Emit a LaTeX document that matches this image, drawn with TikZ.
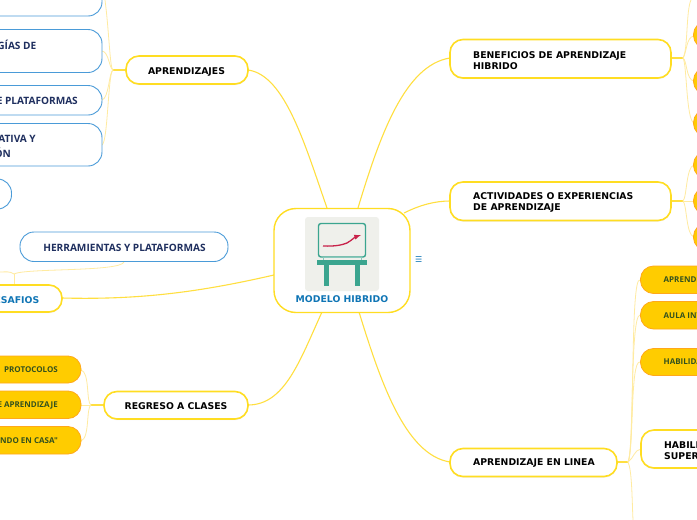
\documentclass[tikz,border=0pt]{standalone}
\usepackage{fontspec}
\setmainfont{DejaVu Sans}
\newfontfamily\bluefont{Open Sans}
\usetikzlibrary{shadows}
\definecolor{ylw}{HTML}{FFDD22}
\definecolor{lnk}{HTML}{FFEBA0}
\definecolor{mainlnk}{HTML}{FFDF40}
\definecolor{gold}{HTML}{FFCC00}
\definecolor{goldb}{HTML}{FFA81A}
\definecolor{goldt}{HTML}{33511E}
\definecolor{bluel}{HTML}{4A9BD8}
\definecolor{navy}{HTML}{1F2F5F}
\definecolor{teal1}{HTML}{3BA58F}
\definecolor{cblue}{HTML}{0F75B5}
\definecolor{panel}{HTML}{EFF0EB}
\definecolor{crim}{HTML}{C8234A}
\tikzset{
 x=1pt,y=-1pt,
 ybox/.style={draw=ylw,line width=1.6pt,fill=white,rounded corners=13pt,drop shadow={opacity=0.13,shadow xshift=0pt,shadow yshift=-1.2pt}},
 bbox/.style={draw=bluel,line width=0.9pt,fill=white,rounded corners=14pt},
 gbox/.style={draw=goldb,line width=0.8pt,fill=gold,rounded corners=13pt},
 ytxt/.style={font=\bfseries\fontsize{9.3}{11}\selectfont,text=black,inner sep=0pt,align=left},
 btxt/.style={font=\bluefont\bfseries\fontsize{10.1}{14}\selectfont,text=navy,inner sep=0pt,align=left},
 gtxt/.style={font=\bluefont\bfseries\fontsize{8}{10}\selectfont,text=goldt,inner sep=0pt},
 mainlink/.style={draw=mainlnk,line width=1.1pt},
 sublink/.style={draw=lnk,line width=0.8pt},
}
\begin{document}
\begin{tikzpicture}
\useasboundingbox (0,0) rectangle (697,520);
\clip (0,0) rectangle (697,520);
\fill[white] (0,0) rectangle (697,520);

% coordinates
\coordinate (c1) at (327,208);
\coordinate (c2) at (358,208);
\coordinate (c3) at (404,213);
\coordinate (c4) at (274,275);
\coordinate (c5) at (322,312);
\coordinate (c6) at (359,312);
\coordinate (apR) at (248,70);
\coordinate (apL) at (126,70);
\coordinate (hubA) at (113,70);
\coordinate (benL) at (450,58);
\coordinate (benR) at (671,58);
\coordinate (hubB) at (683,58);
\coordinate (actL) at (450,201);
\coordinate (actR) at (671,201);
\coordinate (hubC) at (683,201);
\coordinate (desR) at (62,298);
\coordinate (desT) at (14,285);
\coordinate (hubD) at (14,274);
\coordinate (regL) at (104,405);
\coordinate (regR) at (248,405);
\coordinate (hubE) at (91,405);
\coordinate (linL) at (450,462);
\coordinate (linR) at (617,462);
\coordinate (hubF) at (628,462);
\coordinate (offT) at (105,0);
\coordinate (offTR) at (691,0);
\coordinate (offB) at (633,520);
\coordinate (offDes) at (0,272);

% main links
\draw[mainlink] (apR) .. controls (285,75) and (305,145) .. (c1);
\draw[mainlink] (benL) .. controls (405,65) and (380,135) .. (c2);
\draw[mainlink] (actL) .. controls (435,201) and (420,205) .. (c3);
\draw[mainlink] (desR) .. controls (140,300) and (200,292) .. (c4);
\draw[mainlink] (regR) .. controls (285,405) and (300,360) .. (c5);
\draw[mainlink] (linL) .. controls (405,455) and (380,380) .. (c6);

% hub stems
\draw[mainlink] (apL) -- (hubA);
\draw[mainlink] (benR) -- (hubB);
\draw[mainlink] (actR) -- (hubC);
\draw[mainlink] (regL) -- (hubE);
\draw[mainlink] (linR) -- (hubF);
\draw[sublink] (desT) -- (hubD);

% left sub links
\draw[sublink] (hubA) .. controls (110,70) and (109,30) .. (offT);
\draw[sublink] (hubA) .. controls (109,68) and (109,52) .. (102,51);
\draw[sublink] (hubA) .. controls (109,72) and (109,98) .. (102,100);
\draw[sublink] (hubA) .. controls (108,72) and (108,142) .. (102,145);
\draw[sublink] (hubD) .. controls (25,268) and (120,272) .. (124,262);
\draw[sublink] (hubD) .. controls (10,271) and (5,272) .. (offDes);
\draw[sublink] (hubE) .. controls (86,403) and (90,372) .. (81,370);
\draw[sublink] (hubE) -- (81,405);
\draw[sublink] (hubE) .. controls (86,407) and (90,438) .. (81,441);

% right sub links
\draw[sublink] (hubB) .. controls (688,50) and (686,10) .. (offTR);
\draw[sublink] (hubB) .. controls (687,52) and (686,37) .. (694,36);
\draw[sublink] (hubB) .. controls (687,60) and (686,80) .. (694,81);
\draw[sublink] (hubB) .. controls (687,64) and (686,120) .. (694,123);
\draw[sublink] (hubC) .. controls (687,197) and (686,167) .. (694,165);
\draw[sublink] (hubC) -- (694,201);
\draw[sublink] (hubC) .. controls (687,205) and (686,235) .. (694,237);
\draw[sublink] (hubF) .. controls (635,450) and (630,275) .. (640,280);
\draw[sublink] (hubF) .. controls (634,450) and (630,315) .. (640,315);
\draw[sublink] (hubF) .. controls (634,450) and (630,360) .. (640,362);
\draw[sublink] (hubF) .. controls (634,458) and (634,450) .. (641,449);
\draw[sublink] (hubF) .. controls (632,470) and (632,500) .. (offB);

% central node
\draw[draw=ylw,line width=1.4pt,fill=white,rounded corners=22pt] (274,208.5) rectangle (410,312.5);
\fill[panel,rounded corners=3pt] (305,217) rectangle (379,291);
\draw[teal1,line width=1.4pt,rounded corners=2.5pt] (318.5,223.5) rectangle (365.5,257);
\draw[teal1!60,line width=0.8pt] (323,257.5) rectangle (361,260);
\fill[teal1] (317,260) rectangle (367,264.5);
\fill[teal1] (324,264.5) rectangle (329,285.5);
\fill[teal1] (355,264.5) rectangle (360,285.5);
\draw[crim,line width=1.3pt,-latex] (323,246) .. controls (335,246.5) and (342,245) .. (347,243) .. controls (352,240) and (355,237) .. (361,235);
\node[font=\bfseries\fontsize{9.3}{10}\selectfont,text=cblue,inner sep=0pt] (root) at (342,299) {MODELO HIBRIDO};
\node[font=\fontsize{8}{10}\selectfont,text=cblue,inner sep=0pt] (menu) at (418.7,260) {☰};

% yellow boxes
\draw[ybox] (126,56) rectangle (248,84);
\node[ytxt] (t1) at (186.5,71.5) {APRENDIZAJES};
\draw[ybox] (450,39.5) rectangle (671,78);
\node[ytxt,anchor=west] (t2) at (473,60.3) {BENEFICIOS DE APRENDIZAJE\\HIBRIDO};
\draw[ybox] (450,182) rectangle (671,220.5);
\node[ytxt,anchor=west] (t3) at (473,202.3) {ACTIVIDADES O EXPERIENCIAS\\DE APRENDIZAJE};
\draw[ybox] (-30,285) rectangle (62,312);
\node[ytxt,anchor=east,text=cblue] (t4) at (39.5,300) {DESAFIOS};
\draw[ybox] (104,391.5) rectangle (248,419);
\node[ytxt] (t5) at (176,406.5) {REGRESO A CLASES};
\draw[ybox] (450,448.5) rectangle (617,476.5);
\node[ytxt] (t6) at (534,463.5) {APRENDIZAJE EN LINEA};
\draw[ybox] (641,430) rectangle (740,468);
\node[ytxt,anchor=west] (t7) at (664,450.3) {HABILIDADES\\SUPERIORES};

% blue boxes
\draw[bbox] (-40,-20) rectangle (102,16);
\draw[bbox] (-40,29.5) rectangle (102,72.5);
\node[btxt,anchor=east] (b2) at (36.5,44.5) {GÍAS DE};
\draw[bbox] (-40,85.5) rectangle (102,115);
\node[btxt,anchor=east] (b3) at (78,100.5) {DE PLATAFORMAS};
\draw[bbox] (-40,123.5) rectangle (102,166);
\node[btxt,anchor=east] (b4) at (36,138.5) {ATIVA Y};
\node[btxt,anchor=east] (b4b) at (11,153) {ÓN};
\draw[bbox] (-40,179) rectangle (11.5,209);
\draw[bbox] (20,232) rectangle (228,261.5);
\node[btxt] (b6) at (124.5,247.5) {HERRAMIENTAS Y PLATAFORMAS};

% gold boxes, left
\draw[gbox] (-40,356) rectangle (81,383);
\node[gtxt] (g1) at (31,370) {PROTOCOLOS};
\draw[gbox] (-40,391) rectangle (81,418.5);
\node[gtxt,anchor=east] (g2) at (58,405) {DE APRENDIZAJE};
\draw[gbox] (-40,426.5) rectangle (81,454);
\node[gtxt,anchor=east] (g3) at (58,441) {NDO EN CASA"};

% gold boxes, right clipped
\draw[gbox] (693.5,21.5) rectangle (760,48.5);
\draw[gbox] (693.5,67.5) rectangle (760,94.5);
\draw[gbox] (693.5,109.5) rectangle (760,136.5);
\draw[gbox] (693.5,151.5) rectangle (760,178.5);
\draw[gbox] (693.5,187.5) rectangle (760,214.5);
\draw[gbox] (693.5,223.5) rectangle (760,250.5);
\draw[gbox] (640.5,266) rectangle (760,293.5);
\node[gtxt,anchor=west] (g4) at (663.5,280) {APRENDIZ};
\draw[gbox] (640.5,301.5) rectangle (760,329);
\node[gtxt,anchor=west] (g5) at (663.5,315.5) {AULA INVE};
\draw[gbox] (640.5,348.5) rectangle (760,375.5);
\node[gtxt,anchor=west] (g6) at (663.5,362) {HABILIDAD};
\end{tikzpicture}
\end{document}
